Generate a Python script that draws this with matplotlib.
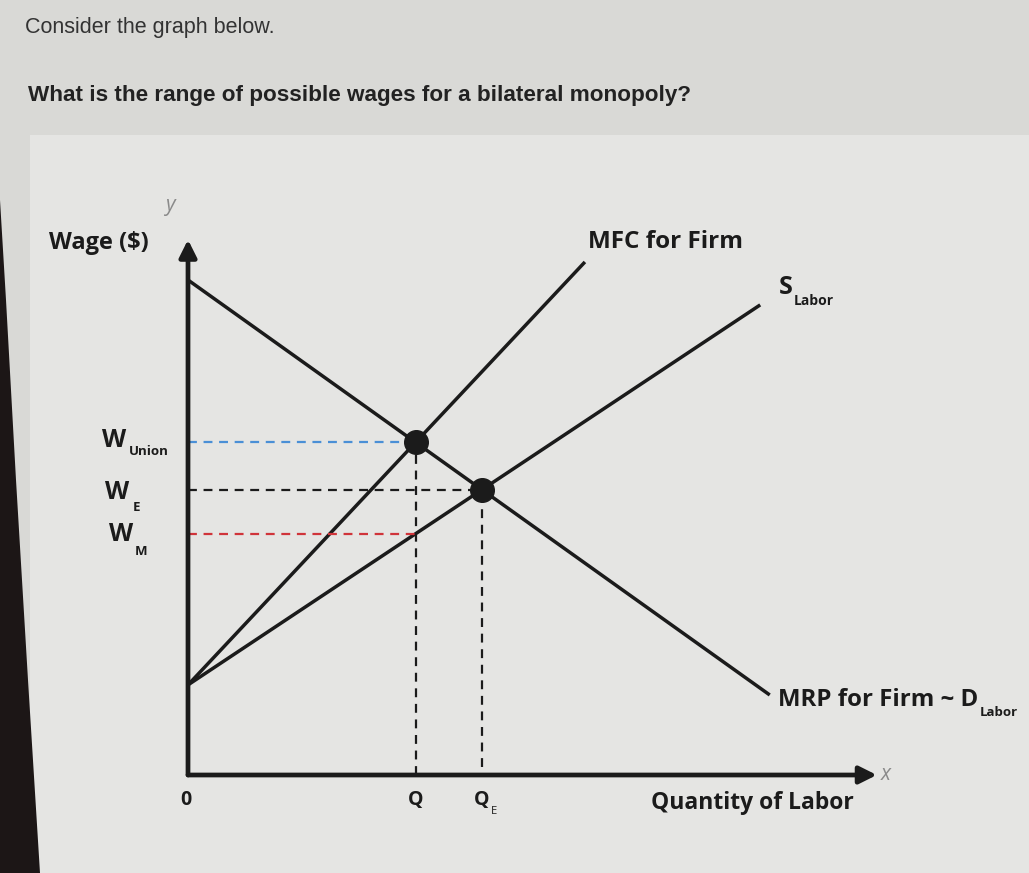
import matplotlib.pyplot as plt
import numpy as np
from matplotlib.patches import Polygon, Rectangle

# curve end points in chart units (quantity 0-100, wage 0-100)
mrp_x = [0, 85.3]
mrp_y = [93.4, 15.1]
mfc_x = [0, 58.2]
mfc_y = [17.0, 96.8]
supply_x = [0, 83.9]
supply_y = [17.0, 88.7]

# wage labels (name, subscript)
wage_labels = [("W", "Union"), ("W", "E"), ("W", "M")]
qty_labels = [("Q", ""), ("Q", "E")]

W, H = 1029, 873
INK = "#1b1b1b"
FONT = ["Open Sans", "DejaVu Sans"]


def line_coef(xs, ys):
    k = (ys[1] - ys[0]) / (xs[1] - xs[0])
    return k, ys[0] - k * xs[0]


def intersect(a, b):
    k1, b1 = a
    k2, b2 = b
    x = (b2 - b1) / (k1 - k2)
    return x, k1 * x + b1


mrp = line_coef(mrp_x, mrp_y)
mfc = line_coef(mfc_x, mfc_y)
sup = line_coef(supply_x, supply_y)

q_union, w_union = intersect(mrp, mfc)
q_e, w_e = intersect(mrp, sup)
w_m = sup[0] * q_union + sup[1]

fig = plt.figure(figsize=(W / 100, H / 100), dpi=100)
fig.patch.set_facecolor("#d9d9d6")

# lighter card behind the graph and the dark screen edge on the left
fig.patches.append(Rectangle((30 / W, 0), 1, (H - 135) / H, transform=fig.transFigure,
                             facecolor="#e5e5e3", edgecolor="none", zorder=0))
edge = [(0, 200), (6, 300), (16, 480), (28, 680), (40, 873), (0, 873)]
fig.patches.append(Polygon([(px / W, 1 - py / H) for px, py in edge], closed=True,
                           transform=fig.transFigure, facecolor="#1c1616",
                           edgecolor="none", zorder=0.5))

fig.text(25 / W, 1 - 28 / H, "Consider the graph below.", fontsize=15.5,
         family=["Liberation Sans", "DejaVu Sans"], color="#333333", va="center")
fig.text(28 / W, 1 - 95 / H, "What is the range of possible wages for a bilateral monopoly?",
         fontsize=16.2, family=["Liberation Sans", "DejaVu Sans"], fontweight="bold",
         color="#222222", va="center")

ax = fig.add_axes([188 / W, 98 / H, 682 / W, 530 / H])
ax.set_zorder(2)
ax.set_xlim(0, 100)
ax.set_ylim(0, 100)
ax.axis("off")
ax.patch.set_alpha(0)

# axes with arrows
ax.annotate("", xy=(0, 101), xytext=(0, 0),
            arrowprops=dict(arrowstyle="-|>", lw=3.4, color=INK, mutation_scale=26,
                            shrinkA=0, shrinkB=0), annotation_clip=False)
ax.annotate("", xy=(101, 0), xytext=(0, 0),
            arrowprops=dict(arrowstyle="-|>", lw=3.4, color=INK, mutation_scale=26,
                            shrinkA=0, shrinkB=0), annotation_clip=False)

# curves
ax.plot(mrp_x, mrp_y, color=INK, lw=2.5, solid_capstyle="butt")
ax.plot(mfc_x, mfc_y, color=INK, lw=2.5, solid_capstyle="butt")
ax.plot(supply_x, supply_y, color=INK, lw=2.5, solid_capstyle="butt")

# guide lines
ax.plot([0, q_union], [w_union, w_union], ls=(0, (4, 3)), color="#4a8fd6", lw=1.6)
ax.plot([0, q_e], [w_e, w_e], ls=(0, (4, 3)), color=INK, lw=1.6)
ax.plot([0, q_union], [w_m, w_m], ls=(0, (4, 3)), color="#d0343a", lw=1.6)
ax.plot([q_union, q_union], [0, w_union], ls=(0, (4, 3)), color=INK, lw=1.6)
ax.plot([q_e, q_e], [1.5, w_e], ls=(0, (4, 3)), color=INK, lw=1.6)

ax.plot([q_union, q_e], [w_union, w_e], "o", color=INK, ms=17, zorder=5)

# wage labels on the left
main_x = [-12.6, -12.2, -11.6]
main_dy = [0.4, -0.6, -0.2]
sub_x = [-8.6, -7.6, -6.9]
sub_dy = [-1.8, -3.4, -3.3]
for (main, sub), w, mx, mdy, sx, sdy in zip(wage_labels, [w_union, w_e, w_m],
                                            main_x, main_dy, sub_x, sub_dy):
    ax.text(mx, w + mdy, main, fontsize=18, fontweight="bold", family=FONT, color=INK,
            ha="left", va="center", clip_on=False)
    ax.text(sx, w + sdy, sub, fontsize=9.5, fontweight="bold", family=FONT, color=INK,
            ha="left" if sub == "Union" else "center", va="center", clip_on=False)

# quantity labels
ax.text(-0.3, -4.8, "0", fontsize=14, fontweight="bold", family=FONT, color=INK,
        ha="center", va="center", clip_on=False)
for (main, sub), q in zip(qty_labels, [q_union, q_e]):
    ax.text(q, -4.8, main, fontsize=14, fontweight="bold", family=FONT, color=INK,
            ha="center", va="center", clip_on=False)
    if sub:
        ax.text(q + 1.3, -6.8, sub, fontsize=8, family=FONT, color=INK,
                ha="left", va="center", clip_on=False)

ax.text(-5.8, 100.3, "Wage ($)", fontsize=17, fontweight="bold", family=FONT,
        color=INK, ha="right", va="center", clip_on=False)
ax.text(-2.6, 107.5, "y", fontsize=15, style="italic", family=FONT, color="#8a8a8a",
        ha="center", va="center", clip_on=False)
ax.text(102.3, 0, "x", fontsize=15, style="italic", family=FONT, color="#8a8a8a",
        ha="center", va="center", clip_on=False)

ax.text(58.6, 100.6, "MFC for Firm", fontsize=17.5, fontweight="bold", family=FONT,
        color=INK, ha="left", va="center", clip_on=False)
s_txt = ax.text(86.6, 91.9, "S", fontsize=18, fontweight="bold", family=FONT, color=INK,
                ha="left", va="center", clip_on=False)
ax.annotate("Labor", xy=(1, 0.15), xycoords=s_txt, xytext=(1, -3),
            textcoords="offset points", fontsize=10, fontweight="bold", family=FONT,
            color=INK, ha="left", va="center", annotation_clip=False)

mrp_txt = ax.text(86.5, 14.2, "MRP for Firm ~ D", fontsize=17.3, fontweight="bold",
                  family=FONT, color=INK, ha="left", va="center", clip_on=False)
ax.annotate("Labor", xy=(1, 0.15), xycoords=mrp_txt, xytext=(1, -3),
            textcoords="offset points", fontsize=9.5, fontweight="bold", family=FONT,
            color=INK, ha="left", va="center", annotation_clip=False)

ax.text(82.7, -5.3, "Quantity of Labor", fontsize=16.5, fontweight="bold", family=FONT,
        color=INK, ha="center", va="center", clip_on=False)

fig.savefig("out.png", dpi=100, facecolor=fig.get_facecolor())
